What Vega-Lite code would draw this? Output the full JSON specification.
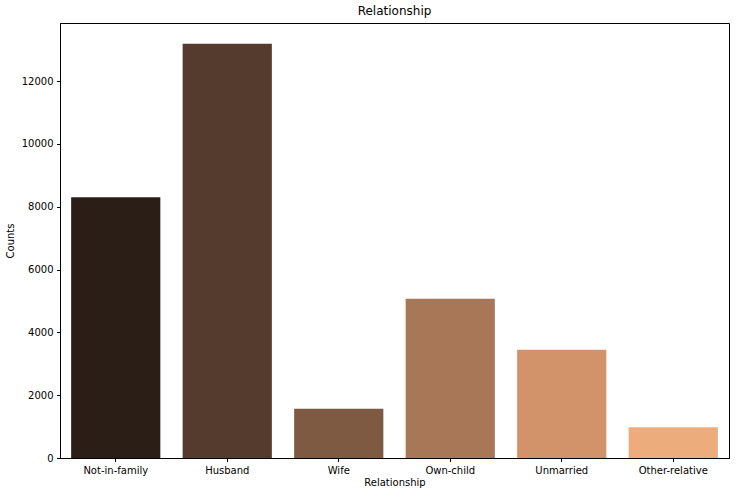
{
  "$schema": "https://vega.github.io/schema/vega-lite/v6.json",
  "autosize": {"type": "none"},
  "width": 669,
  "height": 435,
  "padding": {"left": 60, "top": 23, "right": 7, "bottom": 38},
  "background": "white",
  "title": {"text": "Relationship", "font": "DejaVu Sans", "fontSize": 12, "fontWeight": "normal", "color": "black", "offset": 5},
  "config": {
    "view": {"stroke": "black", "strokeWidth": 1},
    "axis": {
      "labelFont": "DejaVu Sans", "labelFontSize": 10, "labelColor": "black",
      "titleFont": "DejaVu Sans", "titleFontSize": 10, "titleFontWeight": "normal", "titleColor": "black",
      "domainColor": "black", "tickColor": "black", "tickSize": 3.5, "labelPadding": 3.5, "grid": false
    }
  },
  "data": {
    "values": [
      {"Relationship": "Not-in-family", "Counts": 8305},
      {"Relationship": "Husband", "Counts": 13193},
      {"Relationship": "Wife", "Counts": 1568},
      {"Relationship": "Own-child", "Counts": 5068},
      {"Relationship": "Unmarried", "Counts": 3446},
      {"Relationship": "Other-relative", "Counts": 981}
    ]
  },
  "mark": "bar",
  "encoding": {
    "x": {
      "field": "Relationship", "type": "nominal", "sort": null,
      "scale": {"paddingInner": 0.2, "paddingOuter": 0.1},
      "axis": {"labelAngle": 0, "titlePadding": 2}
    },
    "y": {
      "field": "Counts", "type": "quantitative",
      "scale": {"domain": [0, 13852], "nice": false},
      "axis": {"values": [0, 2000, 4000, 6000, 8000, 10000, 12000], "format": "d", "titlePadding": 6}
    },
    "color": {
      "field": "Relationship", "type": "nominal", "sort": null, "legend": null,
      "scale": {
        "domain": ["Not-in-family", "Husband", "Wife", "Own-child", "Unmarried", "Other-relative"],
        "range": ["#2b1e16", "#553b2d", "#7f5a43", "#a87758", "#d2926a", "#ecac7c"]
      }
    }
  }
}
